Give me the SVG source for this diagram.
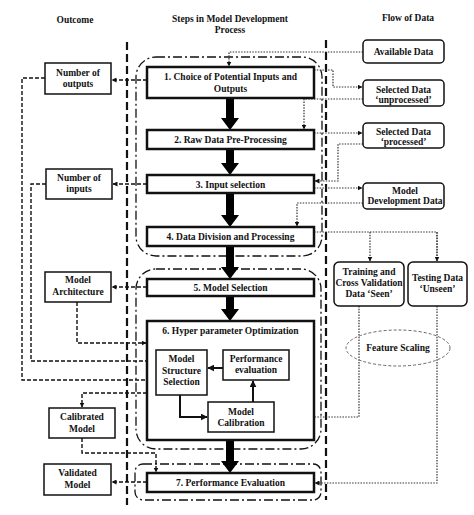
<svg xmlns="http://www.w3.org/2000/svg" width="474" height="515" viewBox="0 0 474 515">
<defs>
<style>
text{font-family:"Liberation Serif","Times New Roman",serif;font-weight:bold;font-size:9.5px;fill:#111;text-anchor:middle}
.step{fill:#fff;stroke:#111;stroke-width:2.5}
.sub{fill:#fff;stroke:#111;stroke-width:1.5}
.out{fill:#fff;stroke:#111;stroke-width:1.5}
.flow{fill:#fff;stroke:#111;stroke-width:1.5}
.grp{fill:none;stroke:#111;stroke-width:1.3;stroke-dasharray:9 3 2 3}
.vline{fill:none;stroke:#111;stroke-width:2.2;stroke-dasharray:8 4}
.dot{fill:none;stroke:#333;stroke-width:1.2;stroke-dasharray:1.5 1.3}
.dash{fill:none;stroke:#111;stroke-width:1.4;stroke-dasharray:4 2}
.solid{fill:none;stroke:#111;stroke-width:2}
.big{fill:#000}
</style>
<marker id="ah" viewBox="0 0 10 10" refX="9" refY="5" markerWidth="5" markerHeight="5" markerUnits="userSpaceOnUse" orient="auto"><path d="M0,0 L10,5 L0,10 z" fill="#111"/></marker>
<marker id="ah2" viewBox="0 0 10 10" refX="9" refY="5" markerWidth="7" markerHeight="7" markerUnits="userSpaceOnUse" orient="auto"><path d="M0,0 L10,5 L0,10 z" fill="#111"/></marker>
</defs>
<rect width="474" height="515" fill="#fff"/>

<g id="headers">
<text x="75" y="23">Outcome</text>
<text x="230" y="22">Steps in Model Development</text>
<text x="230" y="33">Process</text>
<text x="408" y="21">Flow of Data</text>
</g>

<g id="dividers">
<line class="vline" x1="127" y1="42" x2="127" y2="505"/>
<line class="vline" x1="326" y1="40" x2="326" y2="500"/>
</g>

<g id="groups">
<rect class="grp" x="136" y="57" width="186" height="199" rx="20"/>
<rect class="grp" x="136" y="269" width="185" height="180" rx="20"/>
<rect class="grp" x="135" y="464" width="186" height="36" rx="8"/>
</g>

<g id="connectors">
<!-- big arrows -->
<path class="big" d="M226,98 H234 V118 H239 L230,130 L221,118 H226 Z"/>
<path class="big" d="M226,149 H234 V163 H239 L230,175 L221,163 H226 Z"/>
<path class="big" d="M226,193 H234 V215 H239 L230,227 L221,215 H226 Z"/>
<path class="big" d="M226,246 H234 V267 H239 L230,279 L221,267 H226 Z"/>
<path class="big" d="M226,296 H234 V309 H239 L230,321 L221,309 H226 Z"/>
<path class="big" d="M226,440 H234 V461 H239 L230,473 L221,461 H226 Z"/>
<!-- dotted flow of data -->
<path class="dot" d="M363,52 H229 V66" marker-end="url(#ah)"/>
<path class="dot" d="M314,70 H333 V87 H362" marker-end="url(#ah)"/>
<path class="dot" d="M363,99 H304 V129" marker-end="url(#ah)"/>
<path class="dot" d="M314,133 H362" marker-end="url(#ah)"/>
<path class="dot" d="M363,144 H338 V181 H315" marker-end="url(#ah)"/>
<path class="dot" d="M314,188 H362" marker-end="url(#ah)"/>
<path class="dot" d="M363,203 H297 V226" marker-end="url(#ah)"/>
<path class="dot" d="M314,232 H437 V261"/>
<path class="dot" d="M437,232 V261" marker-end="url(#ah)"/>
<path class="dot" d="M370,232 V261" marker-end="url(#ah)"/>
<path class="dot" d="M359,306 V417 H275" marker-end="url(#ah)"/>
<path class="dot" d="M437,306 V483 H315" marker-end="url(#ah)"/>
<!-- dashed outcome -->
<path class="dash" d="M147,80 H112" marker-end="url(#ah)"/>
<path class="dash" d="M45,78 H22 V380 H156" marker-end="url(#ah)"/>
<path class="dash" d="M147,184 H113" marker-end="url(#ah)"/>
<path class="dash" d="M46,184 H31 V361 H156" marker-end="url(#ah)"/>
<path class="dash" d="M147,287 H112" marker-end="url(#ah)"/>
<path class="dash" d="M77,302 V343 H146" marker-end="url(#ah)"/>
<path class="dash" d="M147,393 H82 V407" marker-end="url(#ah)"/>
<path class="dash" d="M82,438 V453 H156 V472" marker-end="url(#ah)"/>
<path class="dash" d="M147,482 H112" marker-end="url(#ah)"/>
</g>

<g id="step1"><rect class="step" x="147" y="67" width="167" height="31"/><text x="230.5" y="80">1. Choice of Potential Inputs and</text><text x="230.5" y="92">Outputs</text></g>
<g id="step2"><rect class="step" x="147" y="130" width="167" height="19"/><text x="230.5" y="143">2. Raw Data Pre-Processing</text></g>
<g id="step3"><rect class="step" x="147" y="175" width="167" height="18"/><text x="230.5" y="187.5">3. Input selection</text></g>
<g id="step4"><rect class="step" x="147" y="227" width="167" height="19"/><text x="230.5" y="240">4. Data Division and Processing</text></g>
<g id="step5"><rect class="step" x="147" y="279" width="167" height="17"/><text x="230.5" y="291">5. Model Selection</text></g>
<g id="step6"><rect class="step" x="147" y="321" width="167" height="119"/><text x="230.5" y="334">6. Hyper parameter Optimization</text></g>
<g id="mss"><rect class="sub" x="156" y="350" width="51" height="45"/><text x="181.5" y="362">Model</text><text x="181.5" y="374">Structure</text><text x="181.5" y="385">Selection</text></g>
<g id="perf"><rect class="sub" x="223" y="350" width="66" height="30"/><text x="256" y="362">Performance</text><text x="256" y="373">evaluation</text></g>
<g id="calib"><rect class="sub" x="208" y="402" width="66" height="30"/><text x="241" y="415">Model</text><text x="241" y="426">Calibration</text></g>
<g id="inner-arrows">
<path class="solid" d="M180,395 V417 H207" marker-end="url(#ah2)"/>
<path class="solid" d="M253,402 V381" marker-end="url(#ah2)"/>
<path class="solid" d="M223,368 H208" marker-end="url(#ah2)"/>
</g>
<g id="step7"><rect class="step" x="147" y="473" width="167" height="19"/><text x="230.5" y="486">7. Performance Evaluation</text></g>

<g id="n-outputs"><rect class="out" x="45" y="63" width="66" height="31"/><text x="78" y="76">Number of</text><text x="78" y="87">outputs</text></g>
<g id="n-inputs"><rect class="out" x="46" y="169" width="66" height="30"/><text x="79" y="181">Number of</text><text x="79" y="192">inputs</text></g>
<g id="arch"><rect class="out" x="45" y="272" width="66" height="30"/><text x="78" y="283">Model</text><text x="78" y="295">Architecture</text></g>
<g id="calibrated"><rect class="out" x="49" y="408" width="66" height="30"/><text x="82" y="420">Calibrated</text><text x="82" y="432">Model</text></g>
<g id="validated"><rect class="out" x="44" y="464" width="67" height="31"/><text x="77.5" y="476">Validated</text><text x="77.5" y="488">Model</text></g>

<g id="available"><rect class="flow" x="363" y="40" width="81" height="23" rx="4"/><text x="403.5" y="55">Available Data</text></g>
<g id="sel-unproc"><rect class="flow" x="363" y="80" width="81" height="26" rx="4"/><text x="403.5" y="93">Selected Data</text><text x="403.5" y="103">‘unprocessed’</text></g>
<g id="sel-proc"><rect class="flow" x="363" y="123" width="81" height="25" rx="4"/><text x="403.5" y="135">Selected Data</text><text x="403.5" y="145">‘processed’</text></g>
<g id="model-dev"><rect class="flow" x="363" y="183" width="81" height="26" rx="4"/><text x="405" y="194">Model</text><text x="405" y="204">Development Data</text></g>
<g id="training"><rect class="flow" x="334" y="262" width="70" height="44" rx="5"/><text x="369" y="275">Training and</text><text x="369" y="286">Cross Validation</text><text x="369" y="297">Data ‘Seen’</text></g>
<g id="testing"><rect class="flow" x="408" y="262" width="59" height="44" rx="5"/><text x="437.5" y="281">Testing Data</text><text x="437.5" y="292">‘Unseen’</text></g>
<g id="feature-scaling"><ellipse cx="398" cy="348" rx="52" ry="18" fill="none" stroke="#666" stroke-width="1" stroke-dasharray="3 2"/><text x="398" y="351">Feature Scaling</text></g>
</svg>
